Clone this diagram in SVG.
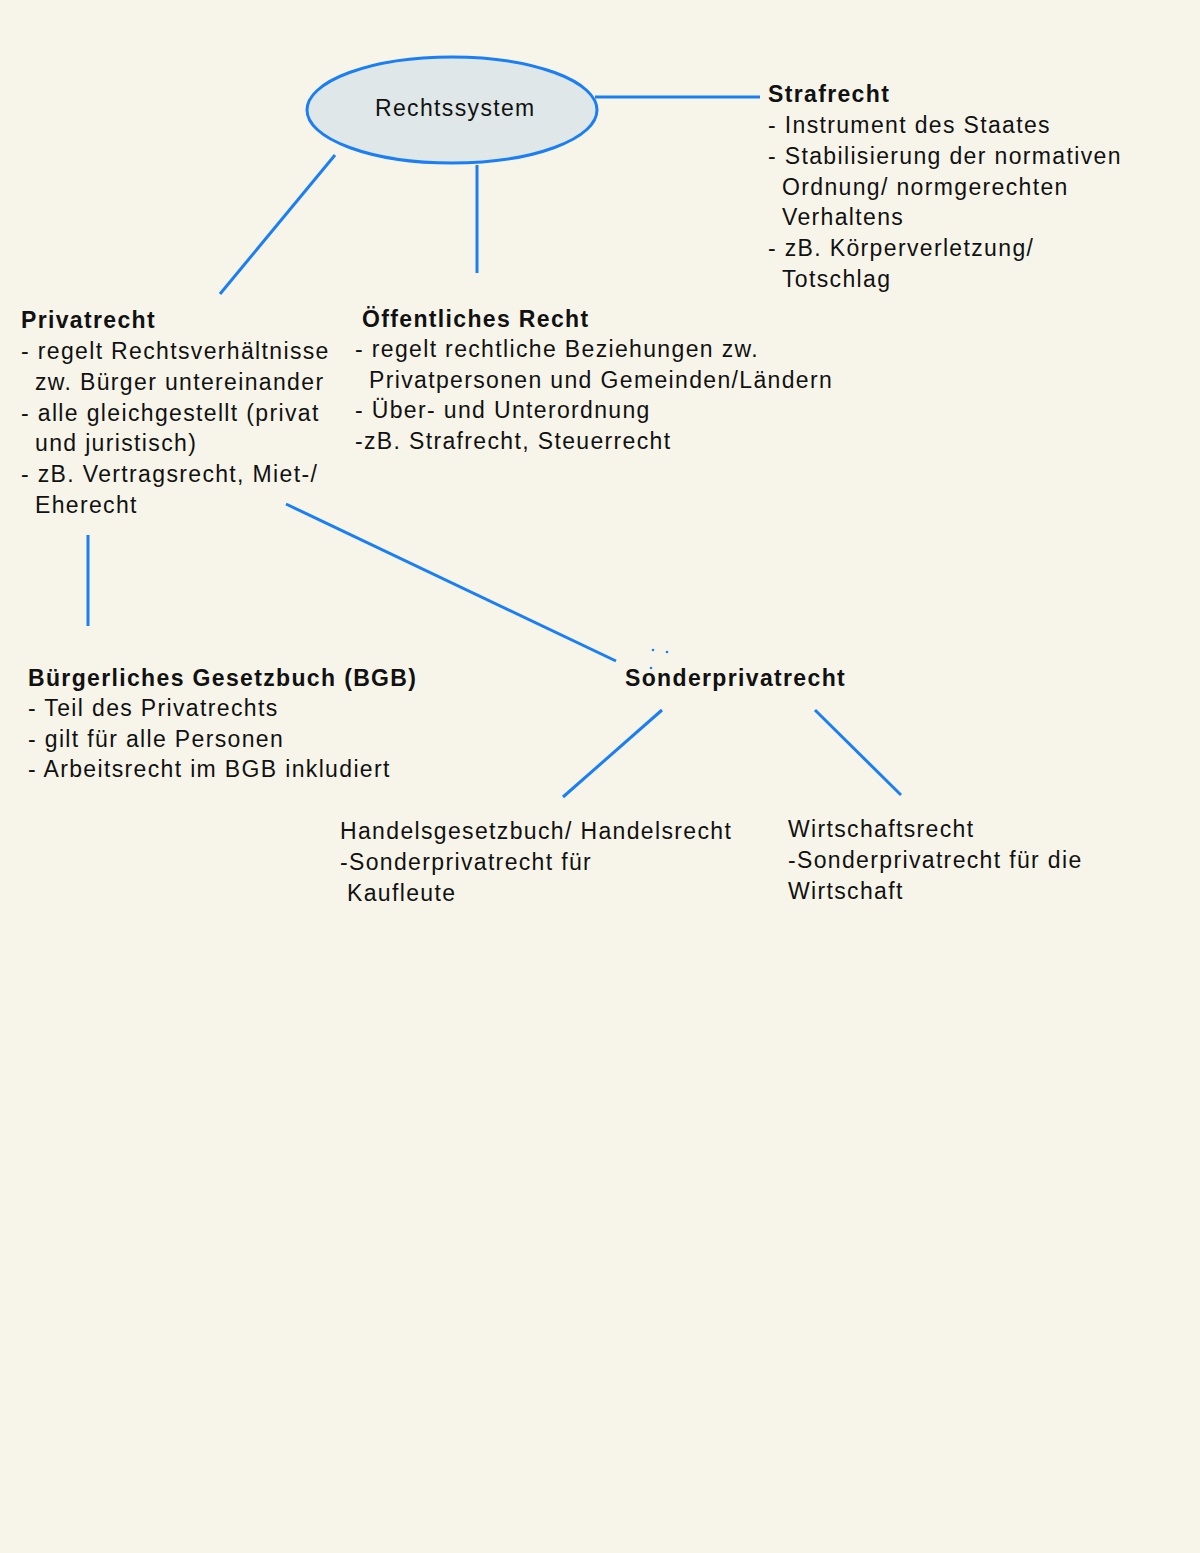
<svg xmlns="http://www.w3.org/2000/svg" width="1200" height="1553" viewBox="0 0 1200 1553">
<style>
text{font-family:"Liberation Sans",Arial,sans-serif;font-size:23px;letter-spacing:1.35px;fill:#111}
.b{font-weight:bold}
.c{stroke:#1a7ef5;stroke-width:3;fill:none}
</style>
<rect width="1200" height="1553" fill="#f7f5ea"/>
<g id="connectors">
<line class="c" x1="595" y1="97" x2="760" y2="97"/>
<line class="c" x1="335" y1="155" x2="220" y2="294"/>
<line class="c" x1="477" y1="165" x2="477" y2="273"/>
<line class="c" x1="88" y1="535" x2="88" y2="626"/>
<line class="c" x1="286" y1="504" x2="616" y2="661"/>
<line class="c" x1="662" y1="710" x2="563" y2="797"/>
<line class="c" x1="815" y1="710" x2="901" y2="795"/>
<g fill="#1a7ef5"><circle cx="653" cy="650" r="1.3"/><circle cx="667" cy="652" r="1.3"/><circle cx="651" cy="668" r="1.3"/></g>
</g>
<g id="rechtssystem">
<ellipse cx="452" cy="110" rx="145" ry="53" fill="#dfe7e8" stroke="#1a7ef5" stroke-width="3"/>
<text x="375" y="116">Rechtssystem</text>
</g>
<g id="strafrecht">
<text x="768" y="102" class="b">Strafrecht</text>
<text x="768" y="133">- Instrument des Staates</text>
<text x="768" y="164">- Stabilisierung der normativen</text>
<text x="782" y="195">Ordnung/ normgerechten</text>
<text x="782" y="225">Verhaltens</text>
<text x="768" y="256">- zB. Körperverletzung/</text>
<text x="782" y="287">Totschlag</text>
</g>
<g id="privatrecht">
<text x="21" y="328" class="b">Privatrecht</text>
<text x="21" y="359">- regelt Rechtsverhältnisse</text>
<text x="35" y="390">zw. Bürger untereinander</text>
<text x="21" y="421">- alle gleichgestellt (privat</text>
<text x="35" y="451">und juristisch)</text>
<text x="21" y="482">- zB. Vertragsrecht, Miet-/</text>
<text x="35" y="513">Eherecht</text>
</g>
<g id="oeffentliches-recht">
<text x="362" y="327" class="b">Öffentliches Recht</text>
<text x="355" y="357">- regelt rechtliche Beziehungen zw.</text>
<text x="369" y="388">Privatpersonen und Gemeinden/Ländern</text>
<text x="355" y="418">- Über- und Unterordnung</text>
<text x="355" y="449">-zB. Strafrecht, Steuerrecht</text>
</g>
<g id="bgb">
<text x="28" y="686" class="b">Bürgerliches Gesetzbuch (BGB)</text>
<text x="28" y="716">- Teil des Privatrechts</text>
<text x="28" y="747">- gilt für alle Personen</text>
<text x="28" y="777">- Arbeitsrecht im BGB inkludiert</text>
</g>
<g id="sonderprivatrecht">
<text x="625" y="686" class="b">Sonderprivatrecht</text>
</g>
<g id="handelsrecht">
<text x="340" y="839">Handelsgesetzbuch/ Handelsrecht</text>
<text x="340" y="870">-Sonderprivatrecht für</text>
<text x="347" y="901">Kaufleute</text>
</g>
<g id="wirtschaftsrecht">
<text x="788" y="837">Wirtschaftsrecht</text>
<text x="788" y="868">-Sonderprivatrecht für die</text>
<text x="788" y="899">Wirtschaft</text>
</g>
</svg>
